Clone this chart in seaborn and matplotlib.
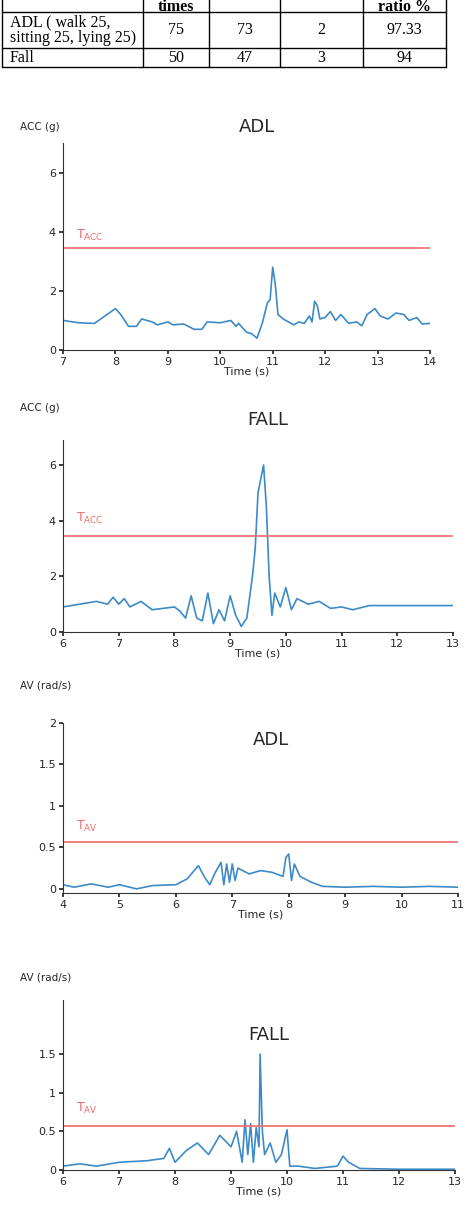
import matplotlib
matplotlib.use("Agg")
import matplotlib.pyplot as plt
import seaborn as sns
import pandas as pd

sns.set_theme(style="white")
plt.rcParams['font.family'] = ['DejaVu Sans']

table_rows = [["ADL ( walk 25,\nsitting 25, lying 25)", "75", "73", "2", "97.33"],
              ["Fall", "50", "47", "3", "94"]]
table_head = ["", "times", "", "", "ratio %"]

acc_adl_t = [7,7.3,7.6,7.8,8.0,8.1,8.25,8.4,8.5,8.7,8.8,9.0,9.1,9.3,9.5,9.65,9.75,10.0,10.2,10.3,10.35,10.5,10.6,10.7,10.8,10.9,10.95,11.0,11.05,11.1,11.2,11.4,11.5,11.6,11.7,11.75,11.8,11.85,11.9,12.0,12.1,12.2,12.3,12.45,12.6,12.7,12.8,12.95,13.05,13.2,13.35,13.5,13.6,13.75,13.85,14]
acc_adl_v = [1.0,0.92,0.9,1.15,1.4,1.2,0.8,0.8,1.05,0.95,0.85,0.95,0.85,0.88,0.7,0.7,0.95,0.92,1.0,0.8,0.9,0.6,0.55,0.4,0.9,1.6,1.7,2.8,2.2,1.2,1.05,0.85,0.95,0.9,1.15,0.95,1.65,1.5,1.05,1.1,1.3,1.0,1.2,0.9,0.95,0.82,1.2,1.4,1.15,1.05,1.25,1.2,1.0,1.1,0.88,0.9]

acc_fall_t = [6,6.3,6.6,6.8,6.9,7.0,7.1,7.2,7.4,7.6,7.8,8.0,8.1,8.2,8.3,8.4,8.5,8.6,8.7,8.8,8.9,9.0,9.1,9.2,9.3,9.4,9.45,9.5,9.55,9.6,9.65,9.7,9.75,9.8,9.9,10.0,10.1,10.2,10.4,10.6,10.8,11.0,11.2,11.5,12,13]
acc_fall_v = [0.9,1.0,1.1,1.0,1.25,1.0,1.2,0.9,1.1,0.8,0.85,0.9,0.75,0.5,1.3,0.5,0.4,1.4,0.3,0.8,0.4,1.3,0.6,0.2,0.5,2.0,3.0,5.0,5.5,6.0,4.5,2.0,0.6,1.4,0.9,1.6,0.8,1.2,1.0,1.1,0.85,0.9,0.8,0.95,0.95,0.95]

av_adl_t = [4,4.2,4.5,4.8,5.0,5.3,5.6,6.0,6.2,6.4,6.5,6.6,6.7,6.8,6.85,6.9,6.95,7.0,7.05,7.1,7.3,7.5,7.7,7.9,7.95,8.0,8.05,8.1,8.2,8.4,8.6,9,9.5,10,10.5,11]
av_adl_v = [0.05,0.02,0.06,0.02,0.05,0.0,0.04,0.05,0.12,0.28,0.15,0.05,0.2,0.32,0.05,0.3,0.08,0.3,0.1,0.25,0.18,0.22,0.2,0.15,0.38,0.42,0.1,0.3,0.15,0.08,0.03,0.02,0.03,0.02,0.03,0.02]

av_fall_t = [6,6.3,6.6,7,7.5,7.8,7.9,8.0,8.2,8.4,8.6,8.8,9.0,9.1,9.2,9.25,9.3,9.35,9.4,9.45,9.5,9.52,9.56,9.6,9.7,9.8,9.9,10.0,10.05,10.2,10.5,10.9,11.0,11.1,11.3,12,13]
av_fall_v = [0.05,0.08,0.05,0.1,0.12,0.15,0.28,0.1,0.25,0.35,0.2,0.45,0.3,0.5,0.1,0.65,0.2,0.6,0.1,0.55,0.3,1.5,0.5,0.2,0.35,0.1,0.2,0.52,0.05,0.05,0.02,0.05,0.18,0.1,0.02,0.01,0.01]

W, H = 474, 1222
fig = plt.figure(figsize=(W/100, H/100), dpi=100)

def box(l, t, r, b):
    return [l/W, 1-b/H, (r-l)/W, (b-t)/H]

# overlay axes (on top, transparent) for table and free texts
tax = fig.add_axes([0, 0, 1, 1], zorder=5)
tax.patch.set_alpha(0)
tax.set_xlim(0, W); tax.set_ylim(H, 0); tax.axis("off")
cols = [2, 143, 209, 280, 363, 446]
rows_y = [-10, 12, 48, 67]
for x in cols:
    tax.plot([x, x], [rows_y[0], rows_y[-1]], color="black", lw=1)
for y in rows_y[1:]:
    tax.plot([cols[0], cols[-1]], [y, y], color="black", lw=1)
tf = dict(family="Liberation Serif", fontsize=11.5, color="black")
for i, h in enumerate(table_head):
    if h:
        tax.text((cols[i]+cols[i+1])/2, 7, h, ha="center", va="center", fontweight="bold", **tf)
for r, row in enumerate(table_rows):
    yc = (rows_y[r+1]+rows_y[r+2])/2
    for i, c in enumerate(row):
        if i == 0:
            tax.text(cols[0]+8, yc, c, ha="left", va="center", linespacing=1.0, **tf)
        else:
            tax.text((cols[i]+cols[i+1])/2, yc, c, ha="center", va="center", **tf)

blue = "#3d8ac9"
red = "#f26a6a"

def panel(rect, t, v, xlim, ylim, yticks, yticklabels, thr, title, ylab, tlab, ylab_y, title_y, tlab_xy):
    ax = fig.add_axes(box(*rect))
    ax.patch.set_alpha(0)
    df = pd.DataFrame({"t": t, "v": v})
    sns.lineplot(data=df, x="t", y="v", ax=ax, color=blue, lw=1.2)
    ax.axhline(thr, color=red, lw=1.2)
    ax.set_xlim(*xlim); ax.set_ylim(*ylim)
    ax.set_xticks(range(xlim[0], xlim[1]+1))
    ax.set_yticks(yticks); ax.set_yticklabels(yticklabels)
    ax.tick_params(labelsize=8, length=3, direction="out", left=True, bottom=True, pad=2)
    for s in ["top", "right"]:
        ax.spines[s].set_visible(False)
    for s in ["left", "bottom"]:
        ax.spines[s].set_color("#333333"); ax.spines[s].set_linewidth(0.8)
    ax.set_xlabel("Time (s)", fontsize=8, labelpad=0)
    ax.set_ylabel("")
    tax.text(20, ylab_y, ylab, fontsize=7.5, va="center")
    tax.text((rect[0]+rect[2])/2 + 10, title_y, title, fontsize=13, ha="center", va="center")
    tax.text(tlab_xy[0], tlab_xy[1], tlab, color=red, fontsize=9, va="center")

panel((63, 143, 430, 350), acc_adl_t, acc_adl_v, (7, 14), (0, 7), [0,2,4,6], ["0","2","4","6"], 3.45,
      "ADL", "ACC (g)", "$\\mathregular{T_{ACC}}$", 127, 127, (76, 235))
panel((63, 440, 453, 632), acc_fall_t, acc_fall_v, (6, 13), (0, 6.9), [0,2,4,6], ["0","2","4","6"], 3.45,
      "FALL", "ACC (g)", "$\\mathregular{T_{ACC}}$", 408, 420, (76, 518))
panel((63, 723, 458, 893), av_adl_t, av_adl_v, (4, 11), (-0.05, 2), [0,0.5,1,1.5,2], ["0","0.5","1","1.5","2"], 0.57,
      "ADL", "AV (rad/s)", "$\\mathregular{T_{AV}}$", 685, 740, (76, 826))
panel((63, 1000, 455, 1170), av_fall_t, av_fall_v, (6, 13), (0, 2.2), [0,0.5,1,1.5], ["0","0.5","1","1.5"], 0.57,
      "FALL", "AV (rad/s)", "$\\mathregular{T_{AV}}$", 978, 1035, (76, 1108))

fig.savefig("out.png", dpi=100)
